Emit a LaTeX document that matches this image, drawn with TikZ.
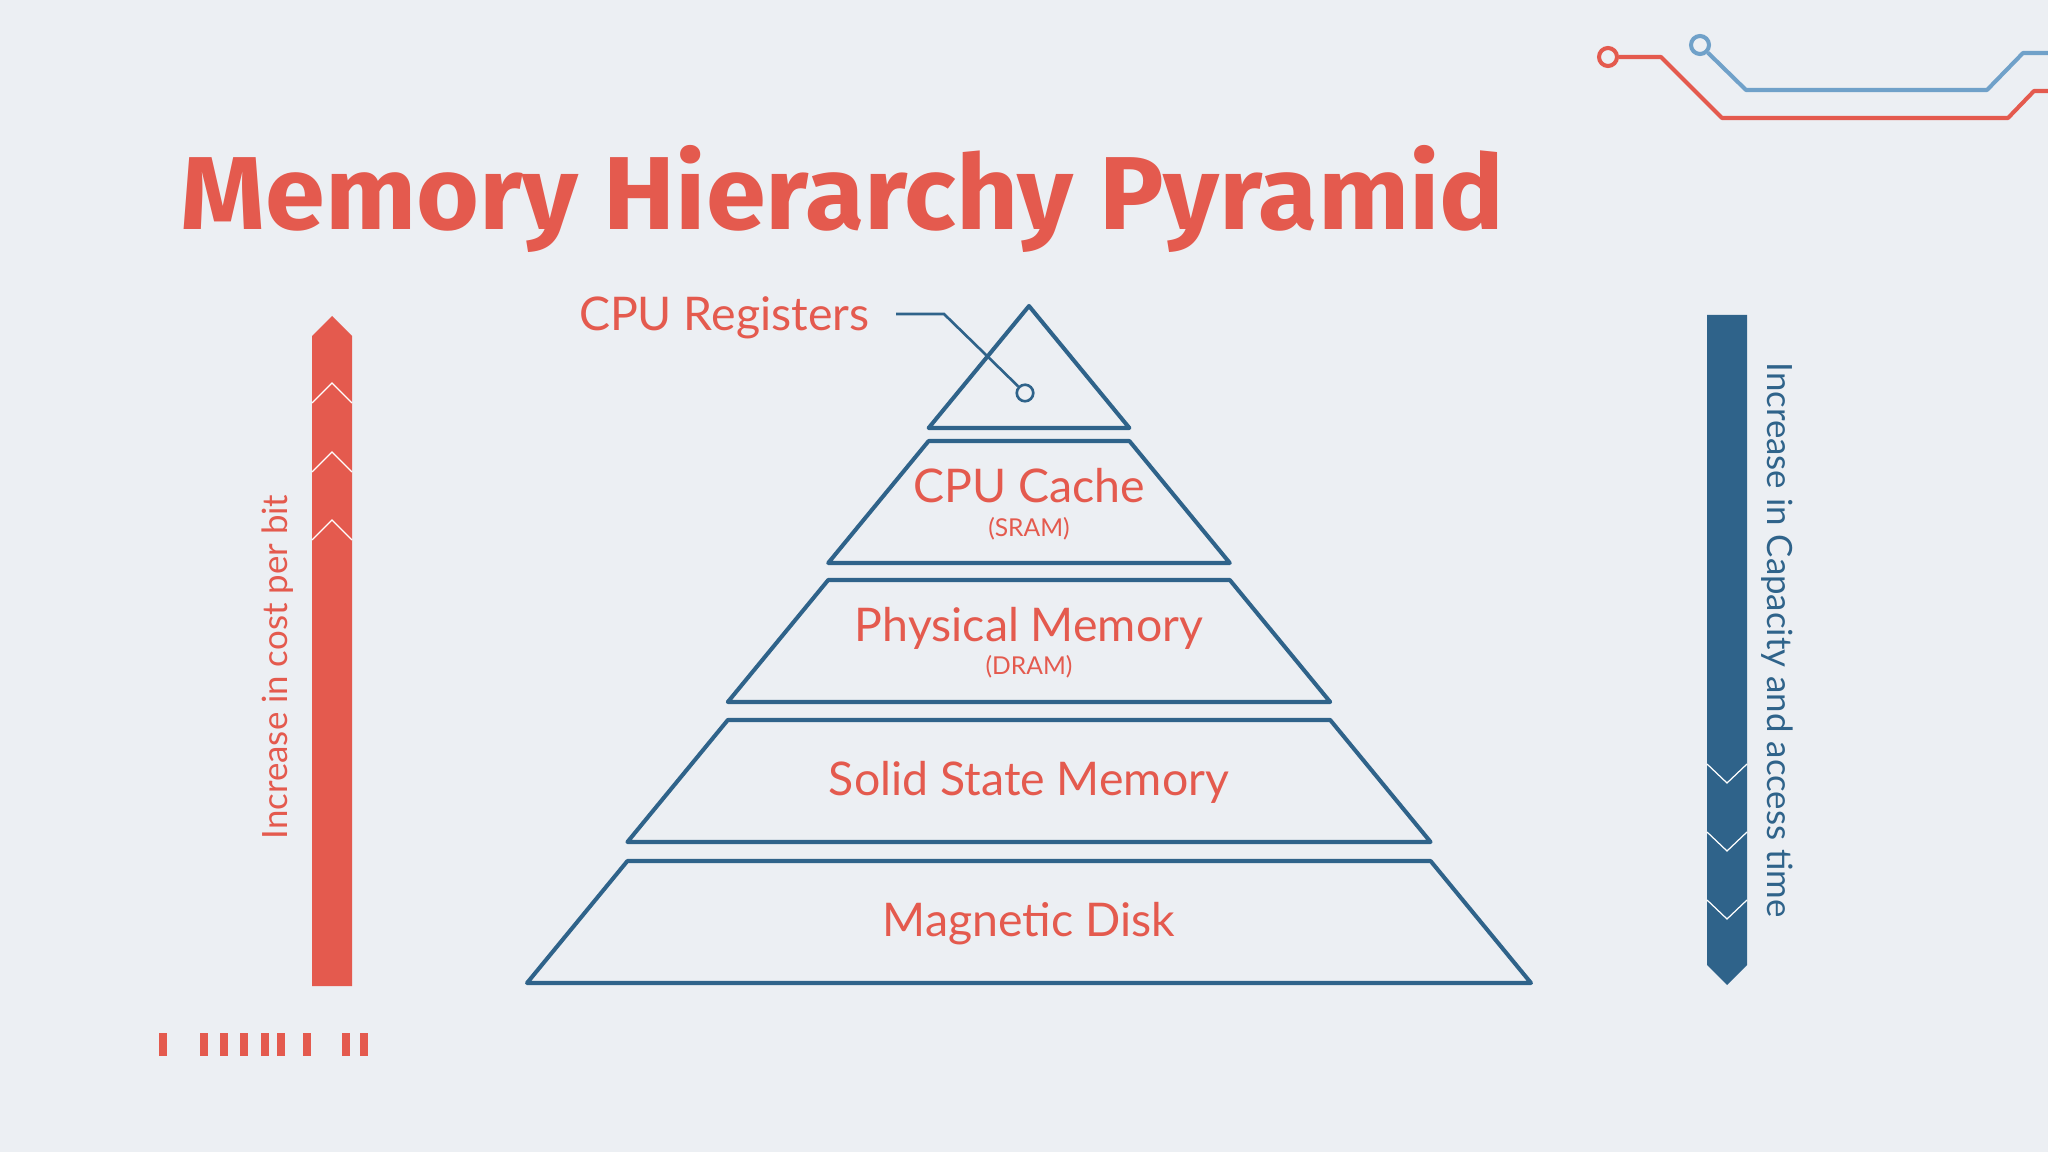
\documentclass[tikz,border=0pt]{standalone}
\usepackage{fontspec}
\setmainfont{Lato}
\newfontfamily\titlefont{Fira Sans}
\definecolor{slidered}{RGB}{228,90,78}
\definecolor{slideblue}{RGB}{47,99,138}
\definecolor{wireblue}{RGB}{112,161,201}
\definecolor{slidebg}{RGB}{236,239,243}
\tikzset{
    layer/.style={draw=slideblue, line width=1.15pt, line join=round},
    layer text/.style={text=slidered, inner sep=0pt, anchor=base, font=\fontsize{13.2}{15}\selectfont},
    layer sub/.style={layer text, font=\fontsize{7}{8}\selectfont},
    side text/.style={inner sep=0pt, font=\fontsize{9.9}{12}\selectfont},
    wire/.style={line width=1.15pt, line join=round},
    wire dot/.style={circle, draw, line width=1.15pt, minimum size=0.18cm, inner sep=0pt},
    chevron/.style={draw=white, line width=0.35pt},
}

\begin{document}
\begin{tikzpicture}[x=0.01cm, y=-0.01cm]
\useasboundingbox (0,0) rectangle (2048,1152);
\fill[slidebg] (0,0) rectangle (2048,1152);

\node[text=slidered, inner sep=0pt, anchor=base west, xscale=1.04, font=\titlefont\bfseries\fontsize{29.5}{32}\selectfont] (title) at (180,230) {Memory Hierarchy Pyramid};

% pyramid layers
\foreach \k/\yt in {0/306,1/441,2/580,3/720,4/861}
    \draw[layer] ({1029-100.4*\k},\yt) -- ({1029+100.4*\k},\yt)
        -- ({1029+100.4*(\k+1)},{\yt+122}) -- ({1029-100.4*(\k+1)},{\yt+122}) -- cycle;

\node[layer text] (cache) at (1029,502) {CPU Cache};
\node[layer sub] (sram) at (1029,537) {(SRAM)};
\node[layer text] (phys) at (1029,641) {Physical Memory};
\node[layer sub] (dram) at (1029,675) {(DRAM)};
\node[layer text] (ssd) at (1029,795) {Solid State Memory};
\node[layer text] (disk) at (1029,936) {Magnetic Disk};

% registers callout
\node[layer text, anchor=base east] (regs) at (870,331) {CPU Registers};
\node[circle, draw=slideblue, line width=0.75pt, minimum size=0.165cm, inner sep=0pt] (regdot) at (1025,393) {};
\coordinate (regtail) at (896,314);
\coordinate (regbend) at (944,314);
\draw[slideblue, line width=0.75pt] (regtail) -- (regbend) -- (regdot);

% side arrows
\fill[slidered] (312,986) -- (312,336) -- (332,316) -- (352,336) -- (352,986) -- cycle;
\foreach \y in {383,452,520}
    \draw[chevron] (312,\y+20) -- (332,\y) -- (352,\y+20);
\fill[slideblue] (1707,315) -- (1747,315) -- (1747,965) -- (1727,985) -- (1707,965) -- cycle;
\foreach \y in {783,851,919}
    \draw[chevron] (1707,\y-19) -- (1727,\y) -- (1747,\y-19);

\node[side text, text=slidered, rotate=90] (costlbl) at (278,667) {Increase in cost per bit};
\node[side text, text=slideblue, rotate=-90] (caplbl) at (1777,640) {Increase in Capacity and access time};

% circuit wires
\node[wire dot, draw=slidered] (reddot) at (1608,57) {};
\coordinate (redA) at (1661,57);
\coordinate (redB) at (1722,118);
\coordinate (redC) at (2008,118);
\coordinate (redD) at (2034,91);
\coordinate (redE) at (2048,91);
\draw[wire, slidered] (reddot) -- (redA) -- (redB) -- (redC) -- (redD) -- (redE);
\node[wire dot, draw=wireblue] (bluedot) at (1700,45) {};
\coordinate (blueA) at (1746,90);
\coordinate (blueB) at (1987,90);
\coordinate (blueC) at (2023,53);
\coordinate (blueD) at (2048,53);
\draw[wire, wireblue] (bluedot) -- (blueA) -- (blueB) -- (blueC) -- (blueD);

\foreach \x in {159,200,220,240,261,277,303,342,360}
    \fill[slidered] (\x,1033) rectangle ++(8,23);
\end{tikzpicture}
\end{document}
